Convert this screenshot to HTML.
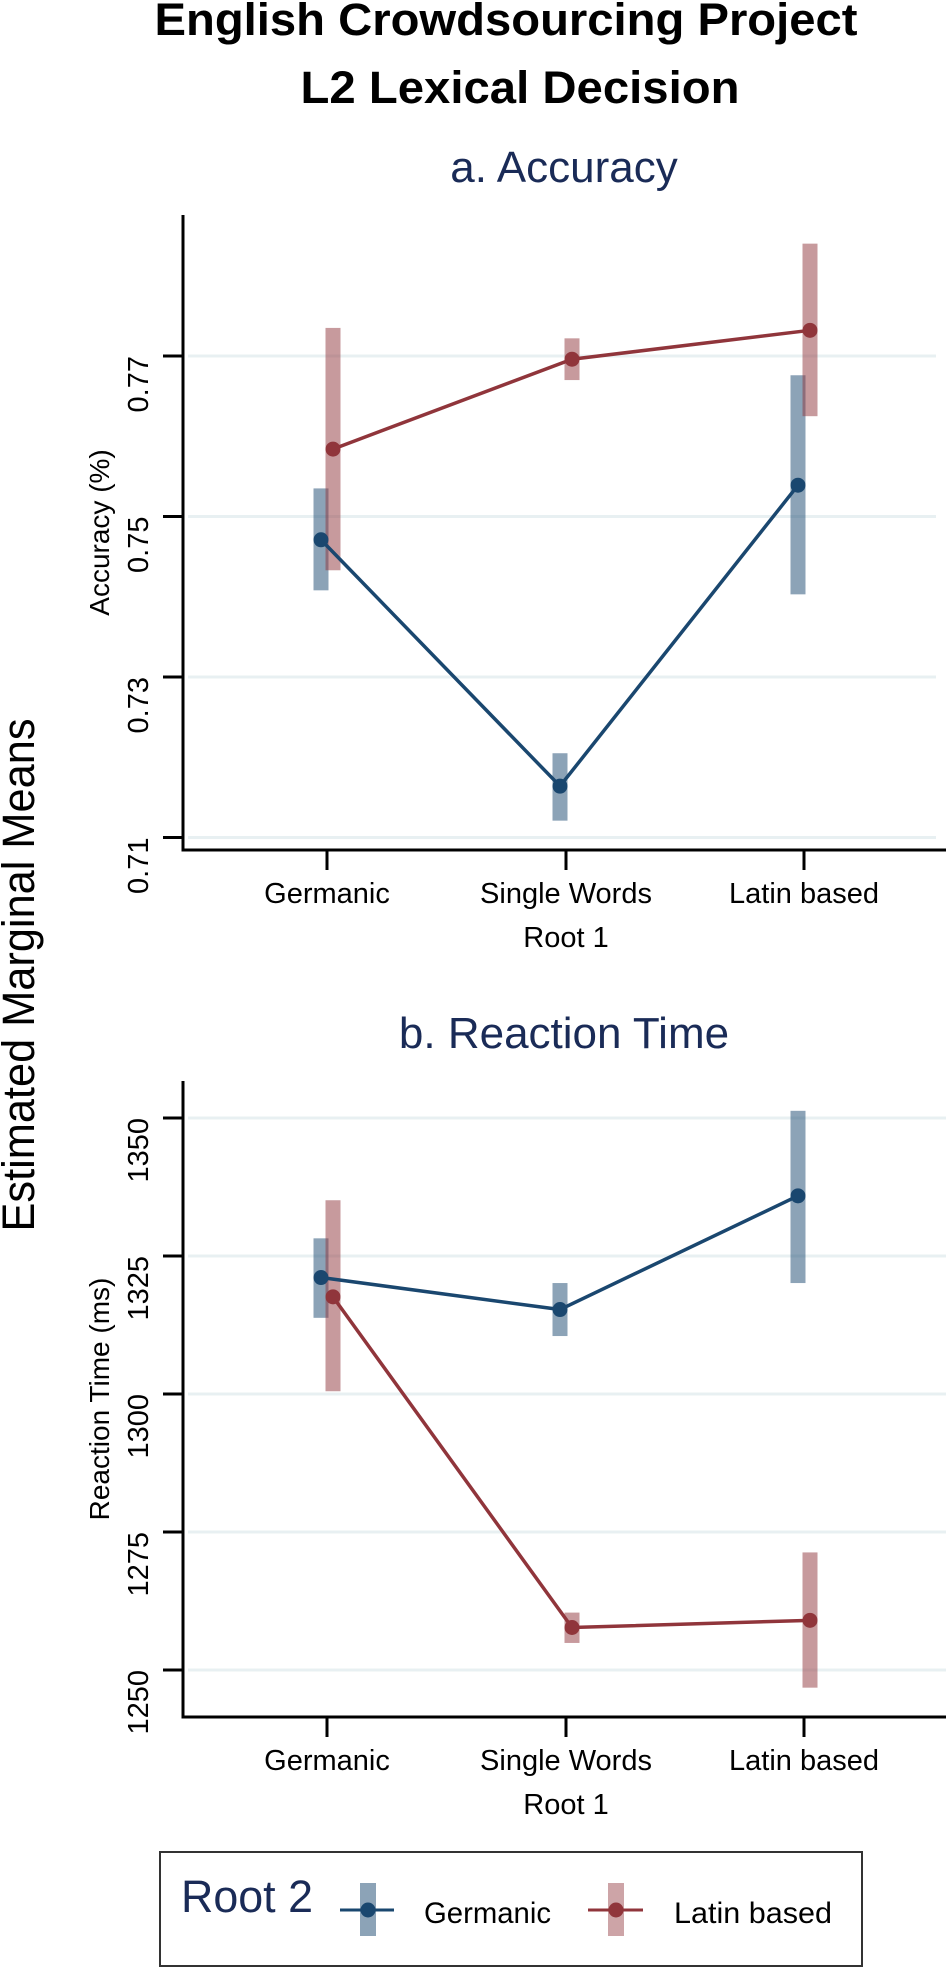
<!DOCTYPE html>
<html><head><meta charset="utf-8"><style>
html,body{margin:0;padding:0;background:#fff;}
svg{display:block;font-family:"Liberation Sans",Arial,sans-serif;}
</style></head><body>
<svg id="fig" width="946" height="1968" viewBox="0 0 946 1968" xmlns="http://www.w3.org/2000/svg">
<text x="506" y="35" text-anchor="middle" font-size="45" font-weight="bold" textLength="703" lengthAdjust="spacingAndGlyphs">English Crowdsourcing Project</text>
<text x="520" y="103" text-anchor="middle" font-size="45" font-weight="bold" textLength="439" lengthAdjust="spacingAndGlyphs">L2 Lexical Decision</text>
<text transform="translate(34,975) rotate(-90)" text-anchor="middle" font-size="45" textLength="513" lengthAdjust="spacingAndGlyphs">Estimated Marginal Means</text>
<g id="legend">
<rect x="160" y="1852" width="702" height="114" fill="#fff" stroke="#333" stroke-width="2"/>
<text x="181" y="1912" font-size="45" fill="#1a2b57" textLength="132" lengthAdjust="spacingAndGlyphs">Root 2</text>
<g>
<rect x="360" y="1883" width="16" height="53" fill="#1a476f" fill-opacity="0.5"/>
<line x1="340" y1="1910" x2="394" y2="1910" stroke="#1a476f" stroke-width="3"/>
<circle cx="368" cy="1910" r="7.5" fill="#1a476f"/>
<text x="424" y="1923" font-size="30" textLength="127" lengthAdjust="spacingAndGlyphs">Germanic</text>
</g>
<g>
<rect x="608" y="1883" width="16" height="53" fill="#90353b" fill-opacity="0.45"/>
<line x1="588" y1="1910" x2="643" y2="1910" stroke="#90353b" stroke-width="3"/>
<circle cx="616" cy="1910" r="7.5" fill="#90353b"/>
<text x="674" y="1923" font-size="30" textLength="158" lengthAdjust="spacingAndGlyphs">Latin based</text>
</g>
</g>
</svg>
<script>
// ---- data ----
const categories = ["Germanic", "Single Words", "Latin based"];
const seriesNames = ["Germanic", "Latin based"];
// Accuracy panel
const accGermanic = [0.7471, 0.7164, 0.7539];
const accGermanicLo = [0.7408, 0.7121, 0.7403];
const accGermanicHi = [0.7535, 0.7205, 0.7676];
const accLatin = [0.7584, 0.7696, 0.7732];
const accLatinLo = [0.7433, 0.7670, 0.7625];
const accLatinHi = [0.7735, 0.7722, 0.7840];
const accTicks = [0.71, 0.73, 0.75, 0.77];
const accTickLabels = ["0.71", "0.73", "0.75", "0.77"];
// Reaction time panel
const rtGermanic = [1321.1, 1315.3, 1335.9];
const rtGermanicLo = [1313.8, 1310.5, 1320.1];
const rtGermanicHi = [1328.2, 1320.1, 1351.3];
const rtLatin = [1317.6, 1257.7, 1259.0];
const rtLatinLo = [1300.5, 1254.9, 1246.8];
const rtLatinHi = [1335.1, 1260.4, 1271.3];
const rtTicks = [1250, 1275, 1300, 1325, 1350];
const rtTickLabels = ["1250", "1275", "1300", "1325", "1350"];

const NS = "http://www.w3.org/2000/svg";
const svg = document.getElementById("fig");
const legend = document.getElementById("legend");
function mk(tag, attrs, parent) {
  const e = document.createElementNS(NS, tag);
  for (const k in attrs) e.setAttribute(k, attrs[k]);
  if (parent) parent.appendChild(e); else svg.insertBefore(e, legend);
  return e;
}
const catX = [327, 566, 804];
const xScale = i => catX[i];
const COLORS = ["#1a476f", "#90353b"];
const OFFS = [-6, 6];

function panel(cfg) {
  const g = mk("g", {});
  
  
  const y = cfg.y;
  cfg.ticks.forEach((t, i) => {
    const gl = mk("line", {x1: 188, x2: cfg.gridRight, y1: y(t), y2: y(t), stroke: "#e8f0f2", "stroke-width": 3}, g);
    
    
  });
  const ya = mk("line", {x1: 183, x2: 183, y1: cfg.top, y2: cfg.bottom + 1.5, stroke: "#000", "stroke-width": 3}, g);
  
  
  const xa = mk("line", {x1: 181.5, x2: 946, y1: cfg.bottom, y2: cfg.bottom, stroke: "#000", "stroke-width": 3}, g);
  
  
  cfg.ticks.forEach((t, i) => {
    const tk = mk("line", {x1: 163, x2: 183, y1: y(t), y2: y(t), stroke: "#000", "stroke-width": 3}, g);
    
    
    const tl = mk("text", {transform: "translate(148," + y(t) + ") rotate(-90)", "text-anchor": "end", "font-size": 29}, g);
    tl.textContent = cfg.tickLabels[i];
    
    
  });
  categories.forEach((c, i) => {
    const tk = mk("line", {x1: xScale(i), x2: xScale(i), y1: cfg.bottom, y2: cfg.bottom + 20, stroke: "#000", "stroke-width": 3}, g);
    
    
    const tl = mk("text", {x: xScale(i), y: cfg.bottom + 53, "text-anchor": "middle", "font-size": 29}, g);
    tl.textContent = c;
    
    
  });
  const xt = mk("text", {x: 566, y: cfg.bottom + 97, "text-anchor": "middle", "font-size": 29}, g);
  xt.textContent = "Root 1";
  
  
  const yt = mk("text", {transform: "translate(109," + ((cfg.top + cfg.bottom) / 2) + ") rotate(-90)", "text-anchor": "middle", "font-size": 28}, g);
  yt.textContent = cfg.yTitle;
  
  
  const st = mk("text", {x: 564, y: cfg.titleY, "text-anchor": "middle", "font-size": 44, fill: "#1a2b57"}, g);
  st.textContent = cfg.title;
  
  
  cfg.series.forEach((s, si) => {
    const col = COLORS[si], off = OFFS[si];
    s.lo.forEach((lo, i) => {
      const yTop = y(s.hi[i]), yBot = y(lo);
      const r = mk("rect", {x: xScale(i) + off - 7.5, y: yTop, width: 15, height: yBot - yTop, fill: col, "fill-opacity": 0.5}, g);
      
      
    });
  });
  cfg.series.forEach((s, si) => {
    const col = COLORS[si], off = OFFS[si];
    const pts = s.mean.map((v, i) => (xScale(i) + off) + "," + y(v)).join(" ");
    const pl = mk("polyline", {points: pts, fill: "none", stroke: col, "stroke-width": 3.5}, g);
    
    
    s.mean.forEach((v, i) => {
      const c = mk("circle", {cx: xScale(i) + off, cy: y(v), r: 7.5, fill: col}, g);
      
      
    });
  });
}

panel({
  name: "accuracy-panel", top: 215, bottom: 850, gridRight: 936, titleY: 182,
  title: "a. Accuracy", yTitle: "Accuracy (%)",
  y: v => 356 + (0.77 - v) / 0.02 * 160.5,
  ticks: accTicks, tickLabels: accTickLabels,
  series: [
    {mean: accGermanic, lo: accGermanicLo, hi: accGermanicHi},
    {mean: accLatin, lo: accLatinLo, hi: accLatinHi}
  ]
});
panel({
  name: "reaction-time-panel", top: 1081, bottom: 1717, gridRight: 946, titleY: 1048,
  title: "b. Reaction Time", yTitle: "Reaction Time (ms)",
  y: v => 1118 + (1350 - v) / 25 * 138,
  ticks: rtTicks, tickLabels: rtTickLabels,
  series: [
    {mean: rtGermanic, lo: rtGermanicLo, hi: rtGermanicHi},
    {mean: rtLatin, lo: rtLatinLo, hi: rtLatinHi}
  ]
});
</script>
</body></html>
